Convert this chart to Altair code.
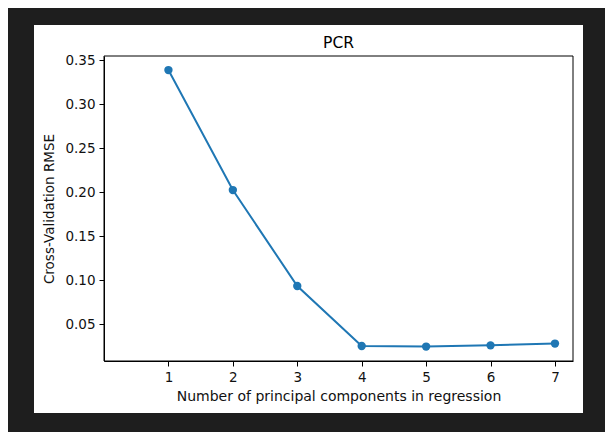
import altair as alt
import pandas as pd

components = [1, 2, 3, 4, 5, 6, 7]
rmse = [0.339, 0.2026, 0.0935, 0.0253, 0.0247, 0.0261, 0.0281]
x_ticks = [1, 2, 3, 4, 5, 6, 7]
y_ticks = [0.05, 0.10, 0.15, 0.20, 0.25, 0.30, 0.35]

df = pd.DataFrame({"n": components, "rmse": rmse})

W, H = 469, 305
FONT = "DejaVu Sans"
BLUE = "#1f77b4"

xenc = alt.X(
    "n:Q",
    scale=alt.Scale(domain=[0.0, 7.28], nice=False, zero=False),
    axis=alt.Axis(values=x_ticks, title="Number of principal components in regression",
                  format="d", zindex=2, titleFontSize=14, titlePadding=6),
)
yenc = alt.Y(
    "rmse:Q",
    scale=alt.Scale(domain=[0.0083, 0.355], nice=False, zero=False),
    axis=alt.Axis(values=y_ticks, title="Cross-Validation RMSE", format=".2f", zindex=2,
                  titleFontSize=13.5, titlePadding=8),
)

one = pd.DataFrame({"a": [0]})
panel = alt.Chart(one).mark_rect(color="white").encode(
    x=alt.value(-70), x2=alt.value(479), y=alt.value(-31), y2=alt.value(357)
)
frame = alt.Chart(one).mark_rect(fill="transparent", stroke="#000000", strokeWidth=1).encode(
    x=alt.value(0), x2=alt.value(W), y=alt.value(0), y2=alt.value(H)
)
line = alt.Chart(df).mark_line(color=BLUE, strokeWidth=2).encode(x=xenc, y=yenc)
pts = alt.Chart(df).mark_circle(color=BLUE, size=70, opacity=1).encode(x=xenc, y=yenc)

chart = (
    alt.layer(panel, frame, line, pts)
    .properties(
        width=W,
        height=H,
        title=alt.TitleParams("PCR", font=FONT, fontSize=15.5, fontWeight="normal", color="#000000",
                              anchor="middle", baseline="alphabetic", offset=-38),
        background="#1e1e1e",
        padding={"left": 96, "top": 48, "right": 32, "bottom": 71},
        autosize=alt.AutoSizeParams(type="none"),
    )
    .configure_view(stroke=None)
    .configure_axis(
        grid=False,
        domainColor="#000000",
        domainWidth=1,
        tickColor="#000000",
        tickWidth=1,
        tickSize=5,
        labelFont=FONT,
        labelFontSize=13.5,
        labelColor="#111111",
        labelPadding=4,
        titleFont=FONT,
        titleFontWeight="normal",
        titleColor="#111111",
    )
)

chart.save("out.html", embed_options={"renderer": "svg", "actions": False})
